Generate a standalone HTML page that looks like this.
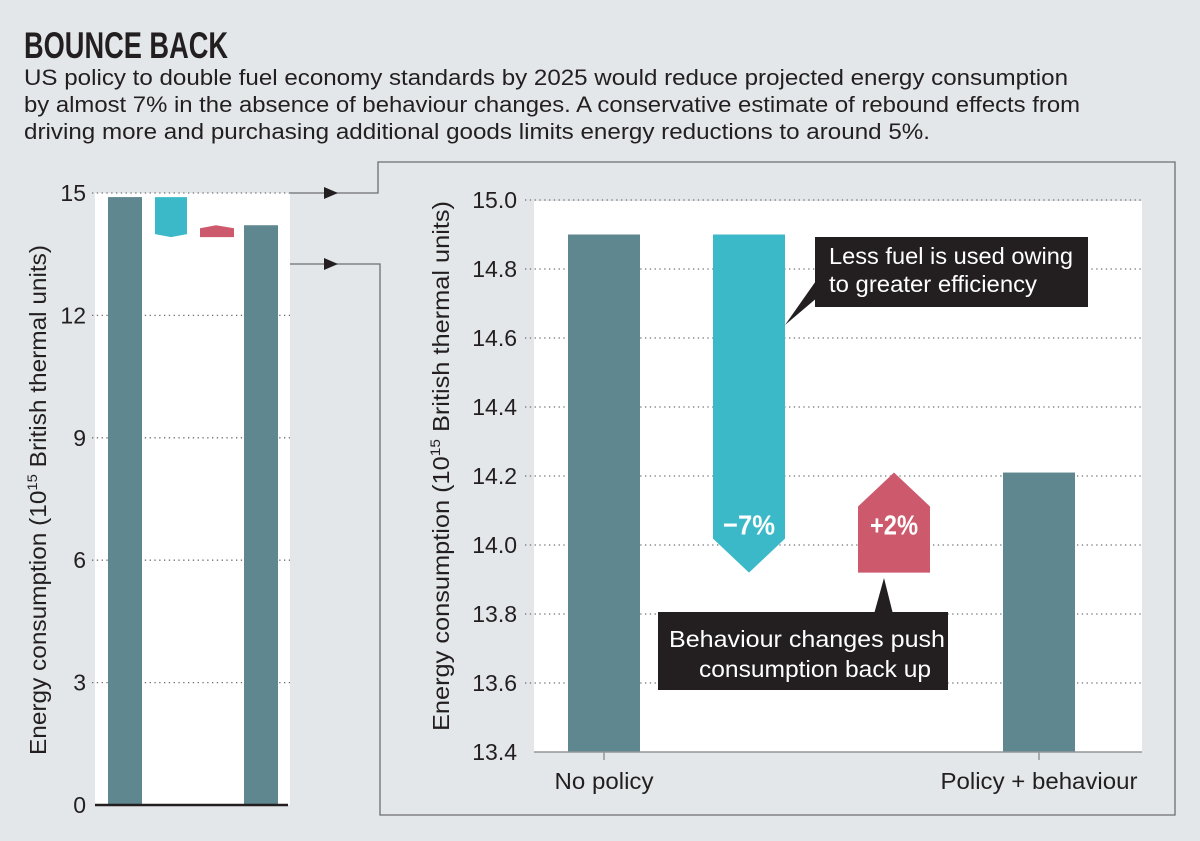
<!DOCTYPE html>
<html><head><meta charset="utf-8"><style>
html,body{margin:0;padding:0;background:#e3e7ea;}
svg{display:block;font-family:"Liberation Sans",sans-serif;}
</style></head><body>
<svg id="c" width="1200" height="841" viewBox="0 0 1200 841" xmlns="http://www.w3.org/2000/svg">
<rect width="1200" height="841" fill="#e3e7ea"/>
<text x="24" y="58" font-size="37" font-weight="bold" fill="#231f20" textLength="204" lengthAdjust="spacingAndGlyphs">BOUNCE BACK</text>
<g font-size="22" fill="#231f20">
<text x="24" y="85" textLength="1044" lengthAdjust="spacingAndGlyphs">US policy to double fuel economy standards by 2025 would reduce projected energy consumption</text>
<text x="24" y="112" textLength="1056" lengthAdjust="spacingAndGlyphs">by almost 7% in the absence of behaviour changes. A conservative estimate of rebound effects from</text>
<text x="24" y="139" textLength="906" lengthAdjust="spacingAndGlyphs">driving more and purchasing additional goods limits energy reductions to around 5%.</text>
</g>
<g id="left"></g>
<g id="conn">
<polyline points="290,193 378,193 378,162 1175,162 1175,815 380,815 380,264 290,264" fill="none" stroke="#6d6e71" stroke-width="1.3"/>
<polygon points="324,187 338,193 324,199" fill="#231f20"/>
<polygon points="324,258 338,264 324,270" fill="#231f20"/>
</g>
<g id="right"></g>
</svg>
<script>
const categories = ["No policy", "Efficiency", "Behaviour", "Policy + behaviour"];
const baseline = 14.9;
const efficiencyEnd = 13.92;
const reboundEnd = 14.21;
const leftTicks = [0, 3, 6, 9, 12, 15];
const rightTicks = [13.4, 13.6, 13.8, 14.0, 14.2, 14.4, 14.6, 14.8, 15.0];
const xLabels = ["No policy", "Policy + behaviour"];
const pctLabels = ["\u22127%", "+2%"];

const NS = "http://www.w3.org/2000/svg";
function mk(parent, tag, attrs, text) {
  const e = document.createElementNS(NS, tag);
  for (const k in attrs) e.setAttribute(k, attrs[k]);
  if (text !== undefined) e.textContent = text;
  parent.appendChild(e);
  return e;
}
const GREY = "#5f878f", CYAN = "#3bb9c8", RED = "#cd5a6c";
const FS = 23;

// ---- left overview ----
const L = document.getElementById("left");
const lyS = v => 805 - (v / 15) * 612;
let e = mk(L, "rect", {x: 95, y: 193, width: 195, height: 612, fill: "#fff"});


leftTicks.forEach(t => {
  const y = lyS(t);
  if (t > 0) {
    const g = mk(L, "line", {x1: 92, x2: 290, y1: y, y2: y, stroke: "#6d6e71", "stroke-width": 1.3, "stroke-dasharray": "1.3 3.5"});
    
    
  }
  const tx = mk(L, "text", {x: 86, y: y + 8, "font-size": FS, "text-anchor": "end", fill: "#231f20"}, String(t));
  
  
});
const lbx = [108, 155, 200, 244], lbw = 34;
e = mk(L, "rect", {x: lbx[0], y: lyS(baseline), width: lbw, height: lyS(0) - lyS(baseline), fill: GREY});


{
  const x = lbx[1], y0 = lyS(baseline), y1 = lyS(efficiencyEnd) - 3, y2 = lyS(efficiencyEnd);
  e = mk(L, "polygon", {points: `${x},${y0} ${x+lbw-2},${y0} ${x+lbw-2},${y1} ${x+16},${y2} ${x},${y1}`, fill: CYAN});
  
  
}
{
  const x = lbx[2], yb = lyS(efficiencyEnd), yt = lyS(reboundEnd), ym = yt + 3;
  e = mk(L, "polygon", {points: `${x},${yb} ${x+lbw},${yb} ${x+lbw},${ym} ${x+16},${yt} ${x},${ym}`, fill: RED});
  
  
}
e = mk(L, "rect", {x: lbx[3], y: lyS(reboundEnd), width: lbw, height: lyS(0) - lyS(reboundEnd), fill: GREY});


e = mk(L, "line", {x1: 95, x2: 288, y1: 805, y2: 805, stroke: "#231f20", "stroke-width": 2.5});


e = mk(L, "text", {x: 0, y: 0, "font-size": FS, fill: "#231f20", "text-anchor": "middle", textLength: 510, lengthAdjust: "spacingAndGlyphs", transform: "translate(46,500) rotate(-90)"});


e.innerHTML = 'Energy consumption (10<tspan font-size="14" dy="-9">15</tspan><tspan dy="9"> British thermal units)</tspan>';

// ---- right detail ----
const R = document.getElementById("right");
const ryS = v => 752 - (v - 13.4) / 1.6 * 552;
e = mk(R, "rect", {x: 534, y: 201, width: 608, height: 551, fill: "#fff"});


rightTicks.forEach(t => {
  const y = ryS(t);
  if (t > 13.45) {
    const g = mk(R, "line", {x1: 525, x2: 1142, y1: y, y2: y, stroke: "#6d6e71", "stroke-width": 1.3, "stroke-dasharray": "1.3 3.5"});
    
    
  }
  const tx = mk(R, "text", {x: 517, y: y + 8, "font-size": FS, "text-anchor": "end", fill: "#231f20"}, t.toFixed(1));
  
  
});
const rbx = [568, 713, 858, 1003], rbw = 72;
e = mk(R, "rect", {x: rbx[0], y: ryS(baseline), width: rbw, height: ryS(13.4) - ryS(baseline), fill: GREY});


{
  const x = rbx[1], y0 = ryS(baseline), y2 = ryS(efficiencyEnd), y1 = y2 - 34;
  e = mk(R, "polygon", {points: `${x},${y0} ${x+rbw},${y0} ${x+rbw},${y1} ${x+rbw/2},${y2} ${x},${y1}`, fill: CYAN});
  
  
  e = mk(R, "text", {x: x + rbw/2, y: y1 - 4, "font-size": 28, "font-weight": "bold", fill: "#fff", "text-anchor": "middle", textLength: 52, lengthAdjust: "spacingAndGlyphs"}, pctLabels[0]);
  
  
}
{
  const x = rbx[2], yb = ryS(efficiencyEnd), yt = ryS(reboundEnd), ym = yt + 34;
  e = mk(R, "polygon", {points: `${x},${yb} ${x+rbw},${yb} ${x+rbw},${ym} ${x+rbw/2},${yt} ${x},${ym}`, fill: RED});
  
  
  e = mk(R, "text", {x: x + rbw/2, y: ym + 28, "font-size": 28, "font-weight": "bold", fill: "#fff", "text-anchor": "middle", textLength: 48, lengthAdjust: "spacingAndGlyphs"}, pctLabels[1]);
  
  
}
e = mk(R, "rect", {x: rbx[3], y: ryS(reboundEnd), width: rbw, height: ryS(13.4) - ryS(reboundEnd), fill: GREY});


e = mk(R, "line", {x1: 534, x2: 1142, y1: 752, y2: 752, stroke: "#939598", "stroke-width": 1.5});


const xlw = [99, 197];
[0, 3].forEach((bi, i) => {
  const cx = rbx[bi] + rbw / 2;
  const t = mk(R, "line", {x1: cx, x2: cx, y1: 752, y2: 760, stroke: "#939598", "stroke-width": 1.5});
  
  
  const l = mk(R, "text", {x: cx, y: 789, "font-size": FS, "text-anchor": "middle", fill: "#231f20", textLength: xlw[i], lengthAdjust: "spacingAndGlyphs"}, xLabels[i]);
  
  
});
e = mk(R, "text", {x: 0, y: 0, "font-size": FS, fill: "#231f20", "text-anchor": "middle", textLength: 530, lengthAdjust: "spacingAndGlyphs", transform: "translate(449,466) rotate(-90)"});


e.innerHTML = 'Energy consumption (10<tspan font-size="14" dy="-9">15</tspan><tspan dy="9"> British thermal units)</tspan>';

// callouts
e = mk(R, "polygon", {points: "818,278 818,297 785,325", fill: "#231f20"});


e = mk(R, "rect", {x: 815, y: 237, width: 273, height: 70, fill: "#231f20"});


e = mk(R, "text", {x: 829, y: 264, "font-size": FS, fill: "#fff", textLength: 244, lengthAdjust: "spacingAndGlyphs"}, "Less fuel is used owing");


e = mk(R, "text", {x: 829, y: 292, "font-size": FS, fill: "#fff", textLength: 208, lengthAdjust: "spacingAndGlyphs"}, "to greater efficiency");


e = mk(R, "polygon", {points: "874,614 893,614 884,578", fill: "#231f20"});


e = mk(R, "rect", {x: 658, y: 612, width: 290, height: 78, fill: "#231f20"});


e = mk(R, "text", {x: 669, y: 647, "font-size": FS, fill: "#fff", textLength: 276, lengthAdjust: "spacingAndGlyphs"}, "Behaviour changes push");


e = mk(R, "text", {x: 699, y: 677, "font-size": FS, fill: "#fff", textLength: 232, lengthAdjust: "spacingAndGlyphs"}, "consumption back up");


</script>
</body></html>
